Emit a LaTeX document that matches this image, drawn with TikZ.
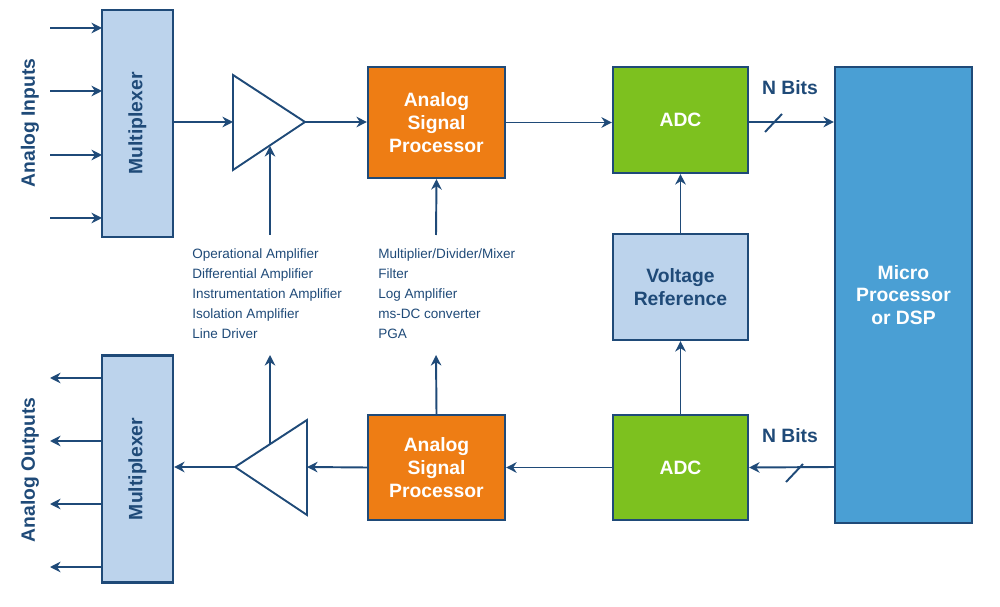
\documentclass[tikz,border=0pt]{standalone}
\usepackage{fontspec}
\setmainfont{Liberation Sans}
\usetikzlibrary{positioning,arrows.meta}
\definecolor{navy}{HTML}{1F4A78}
\definecolor{lblue}{HTML}{BCD3EC}
\definecolor{orng}{HTML}{EE7D14}
\definecolor{grn}{HTML}{7DC11F}
\definecolor{mblue}{HTML}{4A9FD4}
\tikzset{
  blk/.style={draw=navy,line width=1.2pt,text=white,align=center,
    font=\fontsize{11}{13}\selectfont\bfseries,inner sep=0pt},
  mux/.style={blk,fill=lblue,text=navy,minimum width=71*0.02cm,minimum height=227*0.02cm},
  sig/.style={draw=navy,line width=1.1pt,-{Stealth[length=6pt,width=6pt]}},
  lst/.style={text=navy,align=left,anchor=north west,font=\fontsize{7.7}{11.4}\selectfont,inner sep=0pt},
  lbl/.style={text=navy,font=\fontsize{11}{13}\selectfont\bfseries}
}
\begin{document}
\begin{tikzpicture}[x=0.02cm,y=-0.02cm]
  \useasboundingbox (0,0) rectangle (1000,607);
  % multiplexers
  \node[mux] (muxin) at (137.5,123.5) {\rotatebox{90}{Multiplexer}};
  \node[mux] (muxout) at (137.5,469) {\rotatebox{90}{Multiplexer}};
  \node[lbl] (ain) at (30,123) {\rotatebox{90}{Analog Inputs}};
  \node[lbl] (aout) at (30,470) {\rotatebox{90}{Analog Outputs}};
  % blocks
  \node[blk,fill=orng,minimum width=137*0.02cm,minimum height=111*0.02cm] (asp1) at (436.5,122.5) {Analog\\Signal\\Processor};
  \node[blk,fill=orng,minimum width=137*0.02cm,minimum height=105*0.02cm] (asp2) at (436.5,467.5) {Analog\\Signal\\Processor};
  \node[blk,fill=grn,minimum width=135*0.02cm,minimum height=106*0.02cm] (adc1) at (680.5,120) {ADC};
  \node[blk,fill=grn,minimum width=135*0.02cm,minimum height=105*0.02cm] (adc2) at (680.5,467.5) {ADC};
  \node[blk,fill=lblue,text=navy,minimum width=135*0.02cm,minimum height=106*0.02cm] (vref) at (680.5,287) {Voltage\\Reference};
  \node[blk,fill=mblue,minimum width=137*0.02cm,minimum height=456*0.02cm] (cpu) at (903.5,295) {Micro\\Processor\\or DSP};
  % amplifiers
  \draw[navy,line width=1.1pt,fill=white] (233,75) coordinate (a1t) -- (305,122) coordinate (a1o) -- (233,170) coordinate (a1b) -- cycle;
  \coordinate (a1i) at (233,122);
  \coordinate (a1c) at (270,146);
  \draw[navy,line width=1.1pt,fill=white] (307,420) coordinate (a2t) -- (235,467) coordinate (a2o) -- (307,515) coordinate (a2b) -- cycle;
  \coordinate (a2i) at (307,467);
  \coordinate (a2c) at (270,444);
  % inputs and outputs
  \foreach \y in {28,91,155,218} {
    \coordinate (in\y) at (50,\y);
    \draw[sig] (in\y) -- (102,\y);
  }
  \foreach \y in {378,441,504,567} {
    \coordinate (out\y) at (102,\y);
    \draw[sig] (out\y) -- (50,\y);
  }
  % signal path
  \draw[sig] (muxin.east |- a1i) -- (a1i);
  \draw[sig] (a1o) -- (asp1.west |- a1o);
  \draw[sig] (asp1.east) -- (adc1.west |- asp1.east);
  \draw[sig] (adc1.east |- 0,122) coordinate (n1) -- (cpu.west |- n1);
  \draw[sig] (cpu.west |- 0,467) -- (adc2.east);
  \draw[sig] (adc2.west) -- (asp2.east);
  \draw[sig] (asp2.west) -- (a2i);
  \draw[sig] (a2o) -- (muxout.east |- a2o);
  \draw[navy,line width=1.1pt] (765,132) -- (782,114) (786,482) -- (803,464);
  \node[lbl] (nb1) at (790,88) {N Bits};
  \node[lbl] (nb2) at (790,436) {N Bits};
  % control inputs
  \coordinate (c1) at (270,235);
  \coordinate (c2) at (436,235);
  \draw[sig] (c1) -- (a1c);
  \draw[sig] (c2) -- (asp1.south);
  \coordinate (c3) at (270,355);
  \coordinate (c4) at (436,355);
  \draw[sig] (a2c) -- (c3);
  \draw[sig] (asp2.north) -- (c4);
  \draw[sig] (vref.north) -- (adc1.south);
  \draw[sig] (adc2.north) -- (vref.south);
  \node[lst] (amps) at (192,248) {Operational Amplifier\\Differential Amplifier\\Instrumentation Amplifier\\Isolation Amplifier\\Line Driver};
  \node[lst] (funcs) at (378,248) {Multiplier/Divider/Mixer\\Filter\\Log Amplifier\\ms-DC converter\\PGA};
\end{tikzpicture}
\end{document}
